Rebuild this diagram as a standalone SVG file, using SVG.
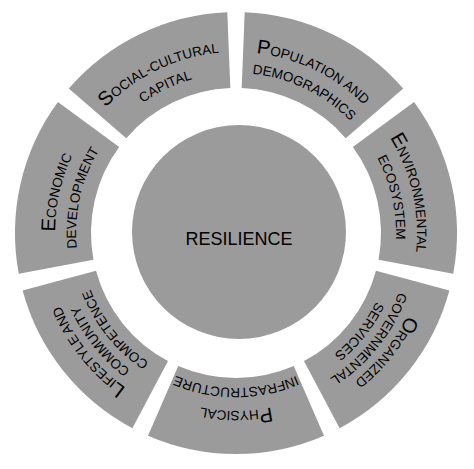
<svg xmlns="http://www.w3.org/2000/svg" width="474" height="469" viewBox="0 0 474 469">
<style>
.seg{fill:#9b9b9b}
.lbl{font-family:"Liberation Sans",Arial,sans-serif;font-size:13.5px;fill:#000;text-anchor:middle}
.big{font-size:20px}
.core{font-family:"Liberation Sans",Arial,sans-serif;font-size:18px;fill:#000;text-anchor:middle}
</style>
<defs>
<path id="seg" class="seg" d="M -88.00,-202.73 A 221 221 0 0 1 88.00,-202.73 L 57.74,-133.01 A 145 145 0 0 0 -57.74,-133.01 Z"/>
<path id="r181" d="M -116.35,-138.65 A 181 181 0 0 1 116.35,-138.65"/>
<path id="r160" d="M -102.85,-122.57 A 160 160 0 0 1 102.85,-122.57"/>
<path id="r178" d="M -114.42,-136.36 A 178 178 0 0 1 114.42,-136.36"/>
<path id="r155" d="M -99.63,-118.74 A 155 155 0 0 1 99.63,-118.74"/>
<path id="r190" d="M -122.13,-145.55 A 190 190 0 0 1 122.13,-145.55"/>
<path id="r173" d="M -111.20,-132.53 A 173 173 0 0 1 111.20,-132.53"/>
<path id="r156" d="M -100.28,-119.50 A 156 156 0 0 1 100.28,-119.50"/>
</defs>
<g id="resilience">
<circle cx="239" cy="232" r="107" class="seg"/>
<text class="core" x="239" y="245">RESILIENCE</text>
</g>
<g id="population" transform="translate(236 233) rotate(25.714)">
<use href="#seg"/>
<text class="lbl"><textPath href="#r181" startOffset="50%"><tspan class="big">P</tspan>OPULATION AND</textPath></text>
<text class="lbl"><textPath href="#r160" startOffset="50%">DEMOGRAPHICS</textPath></text>
</g>
<g id="environmental" transform="translate(236 233) rotate(77.143)">
<use href="#seg"/>
<text class="lbl"><textPath href="#r181" startOffset="50%"><tspan class="big">E</tspan>NVIRONMENTAL</textPath></text>
<text class="lbl"><textPath href="#r160" startOffset="50%">ECOSYSTEM</textPath></text>
</g>
<g id="organized" transform="translate(236 233) rotate(128.571)">
<use href="#seg"/>
<text class="lbl"><textPath href="#r190" startOffset="50%"><tspan class="big">O</tspan>RGANIZED</textPath></text>
<text class="lbl"><textPath href="#r173" startOffset="50%">GOVERNMENTAL</textPath></text>
<text class="lbl"><textPath href="#r156" startOffset="50%">SERVICES</textPath></text>
</g>
<g id="physical" transform="translate(236 233) rotate(180)">
<use href="#seg"/>
<text class="lbl"><textPath href="#r178" startOffset="50%"><tspan class="big">P</tspan>HYSICAL</textPath></text>
<text class="lbl"><textPath href="#r155" startOffset="50%">INFRASTRUCTURE</textPath></text>
</g>
<g id="lifestyle" transform="translate(236 233) rotate(231.429)">
<use href="#seg"/>
<text class="lbl"><textPath href="#r190" startOffset="50%"><tspan class="big">L</tspan>IFESTYLE AND</textPath></text>
<text class="lbl"><textPath href="#r173" startOffset="50%">COMMUNITY</textPath></text>
<text class="lbl"><textPath href="#r156" startOffset="50%">COMPETENCE</textPath></text>
</g>
<g id="economic" transform="translate(236 233) rotate(282.857)">
<use href="#seg"/>
<text class="lbl"><textPath href="#r181" startOffset="50%"><tspan class="big">E</tspan>CONOMIC</textPath></text>
<text class="lbl"><textPath href="#r160" startOffset="50%">DEVELOPMENT</textPath></text>
</g>
<g id="social" transform="translate(236 233) rotate(334.286)">
<use href="#seg"/>
<text class="lbl"><textPath href="#r181" startOffset="50%"><tspan class="big">S</tspan>OCIAL-CULTURAL</textPath></text>
<text class="lbl"><textPath href="#r160" startOffset="50%">CAPITAL</textPath></text>
</g>
</svg>
